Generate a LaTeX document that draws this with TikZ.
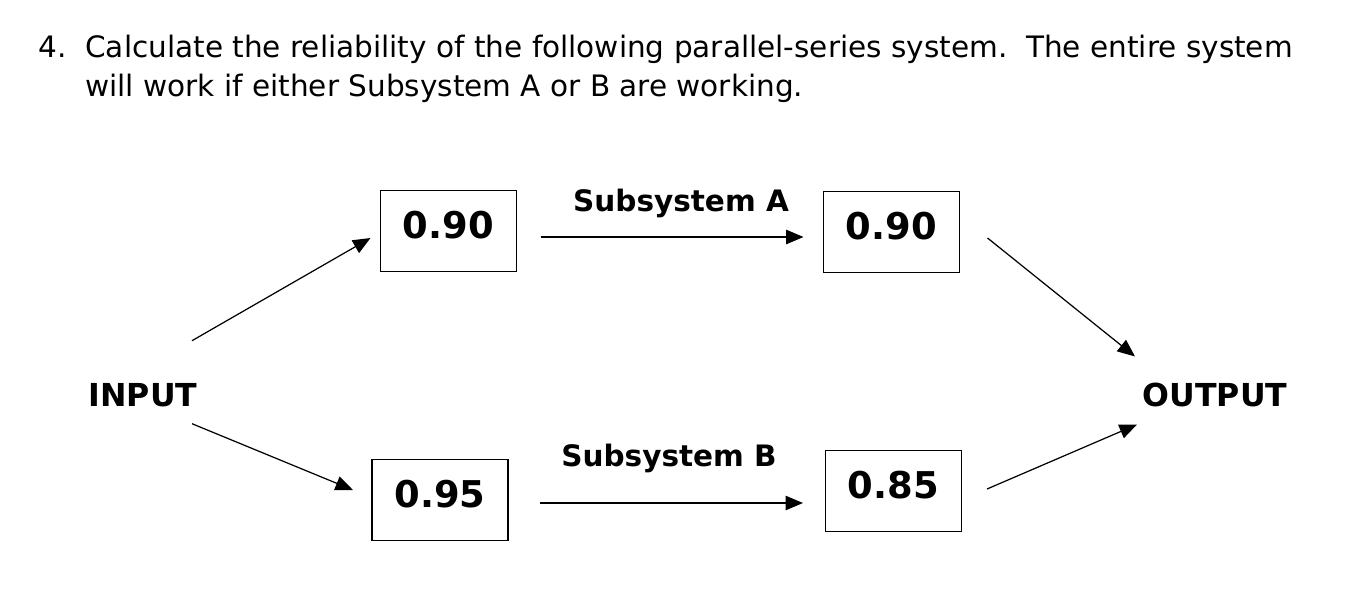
\documentclass[tikz,border=0pt]{standalone}
\usepackage{fontspec}
\setmainfont{DejaVu Sans}
\usetikzlibrary{arrows.meta,positioning}
\tikzset{>={Triangle[length=0.35cm,width=0.29cm]}, % filled arrow heads
link/.style={->, line width=0.7pt}, % the connections between blocks
block/.style={draw, line width=0.85pt, minimum width=2.72cm, minimum height=1.62cm, inner sep=0pt, text height=0.56cm, text depth=0.25cm, font=\fontsize{21}{21}\selectfont\bfseries}, % reliability boxes
tag/.style={inner sep=0pt, font=\fontsize{18}{18}\selectfont\bfseries}, % INPUT and OUTPUT
subname/.style={tag, font=\fontsize{16.8}{18}\selectfont\bfseries}, % subsystem names
question/.style={inner sep=0pt, anchor=base west, font=\fontsize{16.8}{20}\selectfont}, % text of the exercise
}

\begin{document}
\begin{tikzpicture}[x=0.02cm, y=-0.02cm]
\useasboundingbox (0,0) rectangle (1364,592);
% the question
\node[question] (num) at (38,57) {4.};
\node[question] (q1) at (85,57) {Calculate the reliability of the following parallel-series system.\ \ The entire system};
\node[question] (q2) at (85,96) {will work if either Subsystem A or B are working.};
% ends
\node[tag, anchor=base] (input) at (143,406) {INPUT};
\node[tag, anchor=base] (output) at (1215,406) {OUTPUT};
% blocks
\node[block] (a1) at (448.5,231) {0.90};
\node[block] (a2) at (891.5,232) {0.90};
\node[block] (b1) at (440,500) {0.95};
\node[block] (b2) at (893.5,491) {0.85};
\node[subname, anchor=base] (suba) at (681,211) {Subsystem A};
\node[subname, anchor=base] (subb) at (669,466) {Subsystem B};
% connections
\draw[link] ([shift={(49,-54)}]input.center) -- ([shift={(-78,7)}]a1.center);
\draw[link] ([shift={(92,6)}]a1.center) -- ([shift={(-88,5)}]a2.center);
\draw[link] ([shift={(96,6)}]a2.center) -- ([shift={(-80,-38)}]output.center);
\draw[link] ([shift={(49,29)}]input.center) -- ([shift={(-87,-10)}]b1.center);
\draw[link] ([shift={(100,3)}]b1.center) -- ([shift={(-90.5,12)}]b2.center);
\draw[link] ([shift={(93.5,-2)}]b2.center) -- ([shift={(-78,30)}]output.center);
\end{tikzpicture}
\end{document}
